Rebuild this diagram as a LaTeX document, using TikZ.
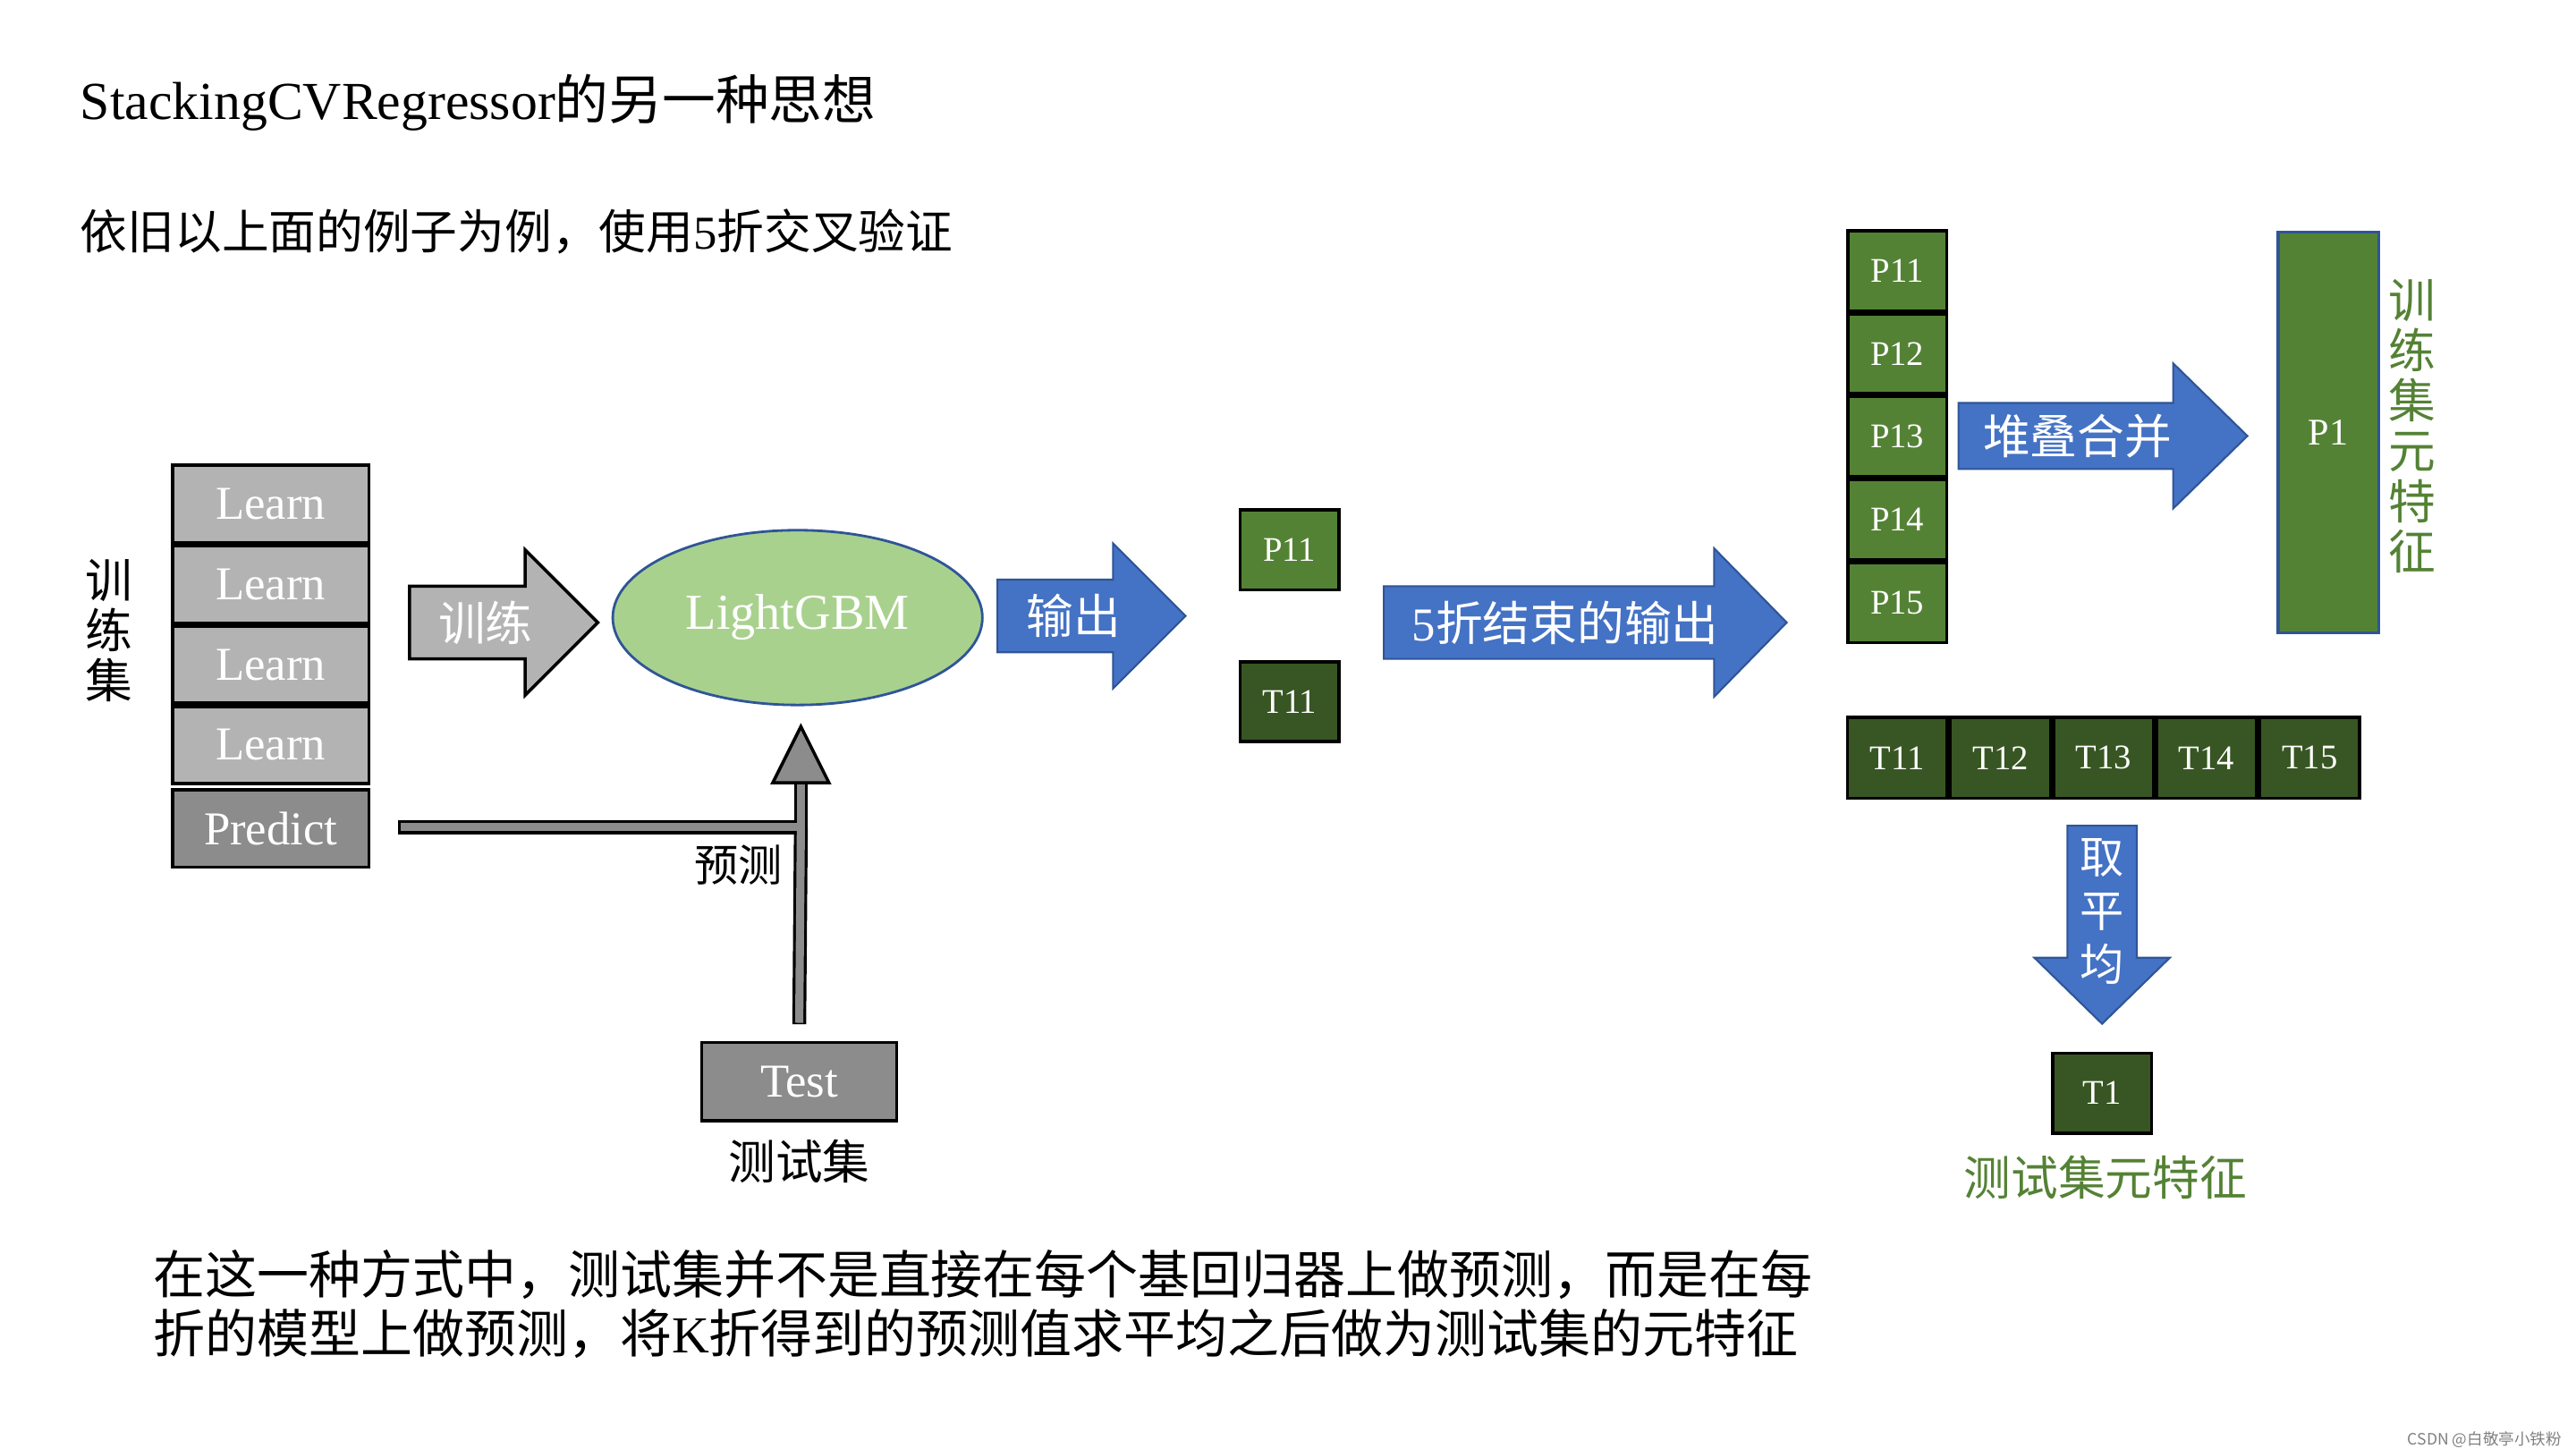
\documentclass[tikz,border=0pt]{standalone}
\usepackage{fontspec}
\setmainfont{Liberation Serif}
\newfontfamily\cjk{Noto Sans CJK SC}
\usetikzlibrary{positioning,shapes.geometric}
\definecolor{lgray}{HTML}{B3B3B3}
\definecolor{dgray}{HTML}{8C8C8C}
\definecolor{lgreen}{HTML}{A9D18E}
\definecolor{mgreen}{HTML}{548235}
\definecolor{dkgreen}{HTML}{375623}
\definecolor{pblue}{HTML}{4472C4}
\definecolor{bblue}{HTML}{2F5597}
\tikzset{
  cell/.style={draw=black, line width=1pt, minimum width=62.5pt, minimum height=24.6pt, inner sep=0pt, text=white, font=\fontsize{15}{15}\selectfont},
  pcell/.style={draw=black, line width=1pt, minimum width=31.5pt, minimum height=25.4pt, inner sep=0pt, text=white, font=\fontsize{11}{11}\selectfont},
  barrow/.style={fill=pblue, draw=bblue, line width=0.6pt},
  garrow/.style={fill=lgray, draw=black, line width=1pt},
  lbl/.style={font=\cjk\fontsize{15}{15}\selectfont, text=white},
}
% right block arrow: x0, x1, head start, y centre, half body, half head
\newcommand\rblock[7]{\path[#1] (#2,#5-#6) -- (#4,#5-#6) -- (#4,#5-#7) -- (#3,#5) -- (#4,#5+#7) -- (#4,#5+#6) -- (#2,#5+#6) -- cycle;}
\begin{document}
\begin{tikzpicture}[x=0.01846cm, y=-0.01846cm]
\useasboundingbox (0,0) rectangle (1560,877.5);

% Titles
\node[anchor=west, font=\fontsize{17}{17}\selectfont] (title) at (42,62) {StackingCVRegressor{\cjk 的另一种思想}};
\node[anchor=west, font=\cjk\fontsize{15}{15}\selectfont] (sub) at (42,140) {依旧以上面的例子为例，使用{\rmfamily 5}折交叉验证};

% Training set
\node[cell, fill=lgray] (l1) at (164,305) {Learn};
\node[cell, fill=lgray, below=0pt of l1] (l2) {Learn};
\node[cell, fill=lgray, below=0pt of l2] (l3) {Learn};
\node[cell, fill=lgray, below=0pt of l3] (l4) {Learn};
\node[cell, fill=dgray, below=1pt of l4] (pr) {Predict};
\node[font=\cjk\fontsize{15}{16}\selectfont, align=center] (train) at (66,382) {训\\练\\集};

\rblock{garrow}{248}{362}{318}{377}{22}{44}
\node[lbl] (lt) at (294,377) {训练};

\node[ellipse, fill=lgreen, draw=bblue, line width=0.8pt, minimum width=117.6pt, minimum height=55.6pt, text=white, font=\fontsize{16}{16}\selectfont] (gbm) at (483,374) {LightGBM};

% Test set
\node[cell, fill=dgray, minimum width=62pt, minimum height=25pt] (test) at (484,655) {Test};
\node[font=\cjk\fontsize{15}{15}\selectfont, below=2pt of test] (tlbl) {测试集};
\coordinate (start) at (241,501);
\coordinate (joint) at (485,501);
\coordinate (tip) at (485,474);
\draw[black, line width=4.4pt] ([yshift=5.25pt]test.north) -- (joint);
\draw[black, line width=4.4pt] (start) -- (joint) -- (tip);
\draw[dgray, line width=2.6pt] ([xshift=0.9pt]start) -- (joint) -- (tip);
\draw[dgray, line width=2.6pt] ([yshift=5.7pt]test.north) -- (joint);
\filldraw[fill=dgray, draw=black, line width=1pt] (468,474) -- (485,440) -- (502,474) -- cycle;
\node[font=\cjk\fontsize{14}{14}\selectfont] (pd) at (447,524) {预测};

% Output
\rblock{barrow}{604}{718}{674}{373}{22}{44}
\node[lbl] (lo) at (650,373) {输出};
\node[pcell, fill=mgreen] (pa) at (781,333) {P11};
\node[pcell, fill=dkgreen] (ta) at (781,425) {T11};

\rblock{barrow}{838}{1082}{1038}{377}{22}{45}
\node[lbl] (l5) at (948,377) {{\rmfamily 5}折结束的输出};

% Fold predictions
\node[pcell, fill=mgreen] (p11) at (1149,164) {P11};
\foreach \i [remember=\i as \j (initially 1)] in {2,...,5}
  \node[pcell, fill=mgreen, below=0pt of p1\j] (p1\i) {P1\i};

\rblock{barrow}{1186}{1361}{1316}{264}{20}{44}
\node[lbl] (lm) at (1258,264) {堆叠合并};
\node[draw=bblue, fill=mgreen, line width=1pt, minimum width=32pt, minimum height=127.5pt, inner sep=0pt, text=white, font=\fontsize{12}{12}\selectfont] (pone) at (1410,262) {P1};
\node[font=\cjk\fontsize{15}{16}\selectfont, text=mgreen, align=center] (tf) at (1461,258) {训\\练\\集\\元\\特\\征};

\node[pcell, fill=dkgreen, minimum width=31.8pt, minimum height=25.8pt] (t11) at (1149,459) {T11};
\foreach \i [remember=\i as \j (initially 1)] in {2,...,5}
  \node[pcell, fill=dkgreen, minimum width=31.8pt, minimum height=25.8pt, right=0pt of t1\j] (t1\i) {T1\i};

\path[barrow] (1252,500) -- (1294,500) -- (1294,580) -- (1314,580) -- (1273,620) -- (1232,580) -- (1252,580) -- cycle;
\node[lbl, align=center, font=\cjk\fontsize{14}{17}\selectfont] (avg) at (1273,552) {取\\平\\均};
\node[pcell, fill=dkgreen] (tone) at (1273,662) {T1};
\node[font=\cjk\fontsize{15}{15}\selectfont, text=mgreen] (sf) at (1275,713) {测试集元特征};

% Note
\node[anchor=north west, align=left, font=\cjk\fontsize{16.5}{19}\selectfont] (note) at (86,750) {在这一种方式中，测试集并不是直接在每个基回归器上做预测，而是在每\\折的模型上做预测，将{\rmfamily K}折得到的预测值求平均之后做为测试集的元特征};
\node[anchor=east, text=gray, font=\cjk\fontsize{5}{5}\selectfont] (wm) at (1558,872) {CSDN @白敬亭小铁粉};
\end{tikzpicture}
\end{document}
